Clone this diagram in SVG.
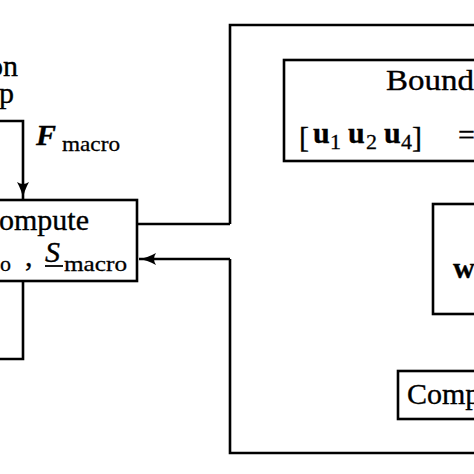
<svg xmlns="http://www.w3.org/2000/svg" width="474" height="474" viewBox="0 0 474 474">
<style>
  .box{fill:none;stroke:#000;stroke-width:2.6}
  .ln{fill:none;stroke:#000;stroke-width:2.6}
  .t{font-family:"Liberation Serif","DejaVu Serif",serif;font-size:30px;fill:#000;stroke:#000;stroke-width:0.35}
  .s{font-family:"Liberation Serif","DejaVu Serif",serif;font-size:22px;fill:#000;stroke:#000;stroke-width:0.3}
  .b{font-weight:bold}
  .i{font-style:italic}
</style>
<defs>
  <marker id="arr" markerWidth="18" markerHeight="14" viewBox="0 0 18 14" refX="17" refY="7" orient="auto" markerUnits="userSpaceOnUse">
    <path d="M0,1 Q9,6 17,7 Q9,8 0,13 Q4,7 0,1 Z" fill="#000"/>
  </marker>
</defs>
<rect width="474" height="474" fill="#fff"/>

<g id="top-left-label">
  <text class="t" x="-12" y="76">on</text>
  <text class="t" x="-1" y="103">p</text>
</g>

<g id="compute">
  <rect class="box" x="-10" y="200" width="147" height="81"/>
  <text class="t" x="-21" y="230">Compute</text>
  <text class="s" x="0" y="271">o</text>
  <text class="t" x="25" y="266">,</text>
  <text class="t i" x="45" y="262">S</text>
  <line x1="45" y1="266" x2="63" y2="266" stroke="#000" stroke-width="1.8"/>
  <text class="s" x="64" y="271" textLength="63" lengthAdjust="spacingAndGlyphs">macro</text>
</g>

<g id="f-macro-label">
  <text class="t b i" x="36" y="145">F</text>
  <text class="s" x="62" y="151" textLength="58" lengthAdjust="spacingAndGlyphs">macro</text>
</g>

<g id="outer">
  <path class="box" d="M480,25 L230,25 L230,224 M230,259 L230,453 L480,453"/>
</g>

<g id="boundary">
  <rect class="box" x="284" y="60" width="220" height="101"/>
  <text class="t" x="386" y="90" textLength="88" lengthAdjust="spacingAndGlyphs">Bound</text>
  <text class="t" x="299" y="147" font-size="36">[</text>
  <text class="t b" x="313" y="143">u</text>
  <text class="s" x="330" y="149">1</text>
  <text class="t b" x="348" y="143">u</text>
  <text class="s" x="366" y="149">2</text>
  <text class="t b" x="384" y="143">u</text>
  <text class="s" x="401" y="149">4</text>
  <text class="t" x="412" y="147" font-size="36">]</text>
  <text class="t" x="458" y="145">=</text>
</g>

<g id="w-node">
  <rect class="box" x="433" y="204" width="60" height="110"/>
  <text class="t b" x="453" y="278">w</text>
</g>

<g id="comp-node">
  <rect class="box" x="398" y="371" width="100" height="48"/>
  <text class="t" x="407" y="404">Comp</text>
</g>

<g id="connectors">
  <path class="ln" d="M-5,121 L23,121 L23,199" marker-end="url(#arr)"/>
  <path class="ln" d="M23,281 L23,359 L-5,359"/>
  <path class="ln" d="M137,224 L230,224"/>
  <path class="ln" d="M230,259 L139,259" marker-end="url(#arr)"/>
</g>
</svg>
